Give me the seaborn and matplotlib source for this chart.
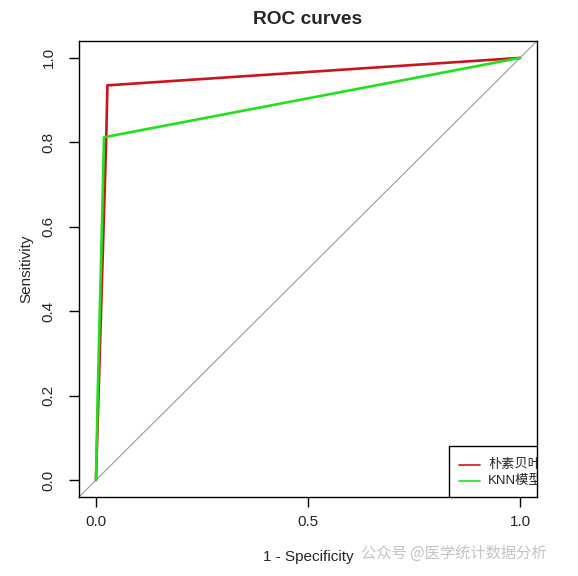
import numpy as np
import pandas as pd
import matplotlib
matplotlib.use("Agg")
import matplotlib.pyplot as plt
import seaborn as sns

# ROC points (1 - specificity, sensitivity)
nb_fpr = [0.0, 0.006, 0.012, 0.018, 0.024, 0.027, 1.0]
nb_tpr = [0.0, 0.2, 0.4, 0.6, 0.8, 0.935, 1.0]
knn_fpr = [0.0, 0.004, 0.009, 0.014, 0.019, 1.0]
knn_tpr = [0.0, 0.2, 0.4, 0.6, 0.812, 1.0]

model_names = ["朴素贝叶斯", "KNN模型"]
model_colors = ["#c8161d", "#22e01d"]
x_ticks = [0.0, 0.5, 1.0]
y_ticks = [0.0, 0.2, 0.4, 0.6, 0.8, 1.0]

sns.set_style("white")
plt.rcParams["font.family"] = ["Liberation Sans", "Noto Sans CJK SC", "DejaVu Sans"]

df = pd.concat([
    pd.DataFrame({"fpr": nb_fpr, "tpr": nb_tpr, "model": model_names[0]}),
    pd.DataFrame({"fpr": knn_fpr, "tpr": knn_tpr, "model": model_names[1]}),
])

fig = plt.figure(figsize=(5.78, 5.76), dpi=100)
ax = fig.add_axes([79 / 578, 1 - 497 / 576, 458 / 578, 456 / 576])

# diagonal reference
ax.plot([-0.04, 1.04], [-0.04, 1.04], color="#9a9a9a", lw=0.8)

sns.lineplot(data=df, x="fpr", y="tpr", hue="model", palette=model_colors,
             sort=False, estimator=None, lw=1.9, legend=False, ax=ax)

ax.set_xlim(-0.04, 1.04)
ax.set_ylim(-0.04, 1.04)
ax.set_xticks(x_ticks)
ax.set_xticklabels([f"{v:.1f}" for v in x_ticks])
ax.set_yticks(y_ticks)
ax.set_yticklabels([f"{v:.1f}" for v in y_ticks], rotation=90, va="center")
ax.tick_params(axis="both", direction="out", length=7, width=1, color="black",
               labelsize=11, bottom=True, left=True)
ax.tick_params(axis="x", pad=6)
ax.tick_params(axis="y", pad=10)
for s in ax.spines.values():
    s.set_color("black")
    s.set_linewidth(1.0)

ax.set_title("ROC curves", fontsize=13.8, fontweight="bold", pad=12)
ax.set_xlabel("1 - Specificity", fontsize=11, labelpad=15)
ax.set_ylabel("Sensitivity", fontsize=11, labelpad=6)

# legend box in the bottom right, clipped by the plot region like the original
box = plt.Rectangle((0.832, -0.05), 0.3, 0.13, fill=False, edgecolor="black",
                    lw=1.0, clip_on=True, zorder=5)
ax.add_patch(box)
for i, (name, col) in enumerate(zip(model_names, model_colors)):
    yy = 0.036 - i * 0.038
    ax.plot([0.855, 0.905], [yy, yy], color=col, lw=1.2, clip_on=True, zorder=6)
    ax.text(0.925, yy, name, fontsize=9.5, va="center", ha="left",
            clip_on=True, zorder=6,
            family=["Liberation Sans", "Noto Sans CJK SC"])

fig.text(0.625, 0.04, "公众号 @医学统计数据分析", fontsize=11, color="#c4c4c4",
         family=["Noto Sans CJK SC", "DejaVu Sans"], va="center")

fig.savefig("out.png", dpi=100)
